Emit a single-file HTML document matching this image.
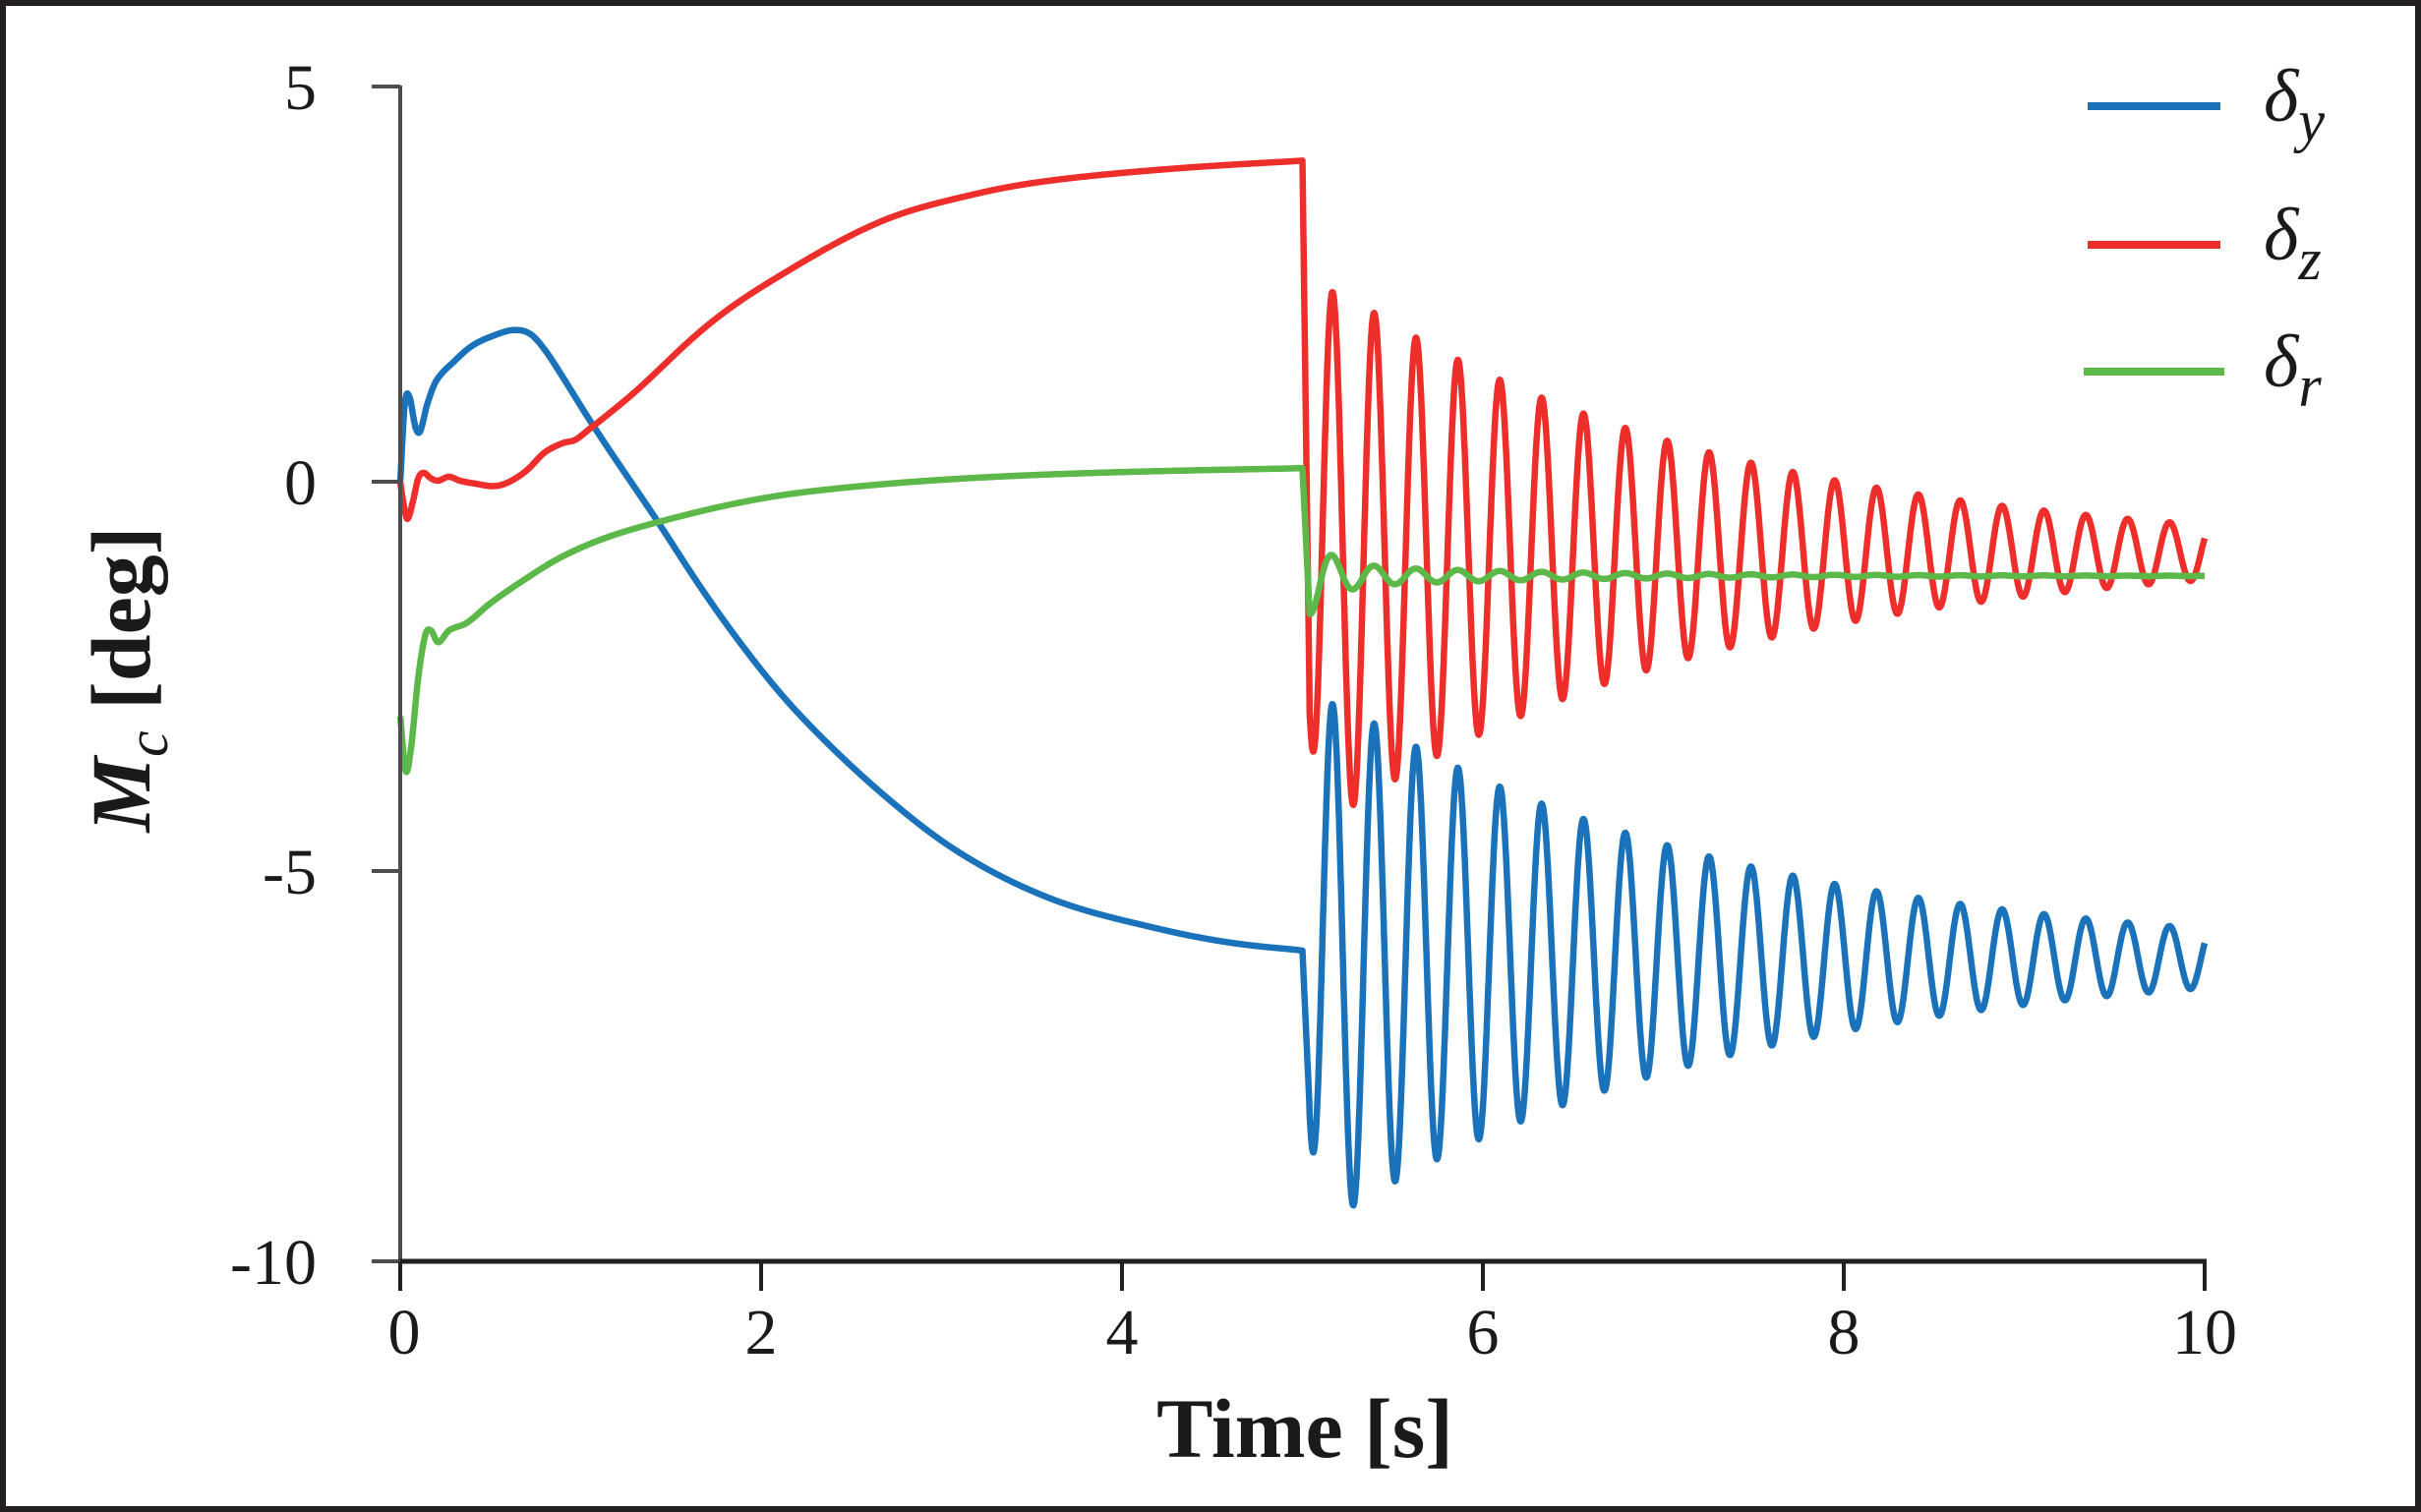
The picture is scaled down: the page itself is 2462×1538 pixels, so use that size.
<!DOCTYPE html>
<html><head><meta charset="utf-8"><style>
html,body{margin:0;padding:0;background:#fff}
svg{display:block}
text{font-family:"Liberation Serif",serif;fill:#1a1a1a}
</style></head><body>
<svg id="s" width="2462" height="1538" viewBox="0 0 2462 1538" xmlns="http://www.w3.org/2000/svg">
<rect x="3" y="3" width="2456" height="1532" fill="#fff" stroke="#231f20" stroke-width="6"/>
<g id="plot"></g>
<line x1="407" y1="87" x2="407" y2="1284" stroke="#4d4d4d" stroke-width="4"/>
<line x1="405" y1="1283" x2="2244" y2="1283" stroke="#231f20" stroke-width="5"/>
<g stroke="#4d4d4d" stroke-width="4">
<line x1="378" y1="88" x2="407" y2="88"/>
<line x1="378" y1="490" x2="407" y2="490"/>
<line x1="378" y1="886" x2="407" y2="886"/>
<line x1="378" y1="1283" x2="407" y2="1283"/>
</g>
<g stroke="#231f20" stroke-width="4">
<line x1="407" y1="1283" x2="407" y2="1313"/>
<line x1="774" y1="1283" x2="774" y2="1313"/>
<line x1="1141" y1="1283" x2="1141" y2="1313"/>
<line x1="1508" y1="1283" x2="1508" y2="1313"/>
<line x1="1875" y1="1283" x2="1875" y2="1313"/>
<line x1="2242" y1="1283" x2="2242" y2="1313"/>
</g>
<g font-size="66" text-anchor="end">
<text x="322" y="111">5</text>
<text x="322" y="513">0</text>
<text x="322" y="909">-5</text>
<text x="322" y="1306">-10</text>
</g>
<g font-size="66" text-anchor="middle">
<text x="411" y="1377">0</text>
<text x="774" y="1377">2</text>
<text x="1141" y="1377">4</text>
<text x="1508" y="1377">6</text>
<text x="1875" y="1377">8</text>
<text x="2242" y="1377">10</text>
</g>
<text x="1327" y="1482" font-size="86" font-weight="bold" text-anchor="middle">Time [s]</text>
<text transform="translate(152,691) rotate(-90)" font-size="86" font-weight="bold" text-anchor="middle"><tspan font-style="italic">M</tspan><tspan font-style="italic" font-weight="normal" font-size="60" dy="18">c</tspan><tspan dy="-18"> [deg]</tspan></text>
<line x1="2123" y1="108" x2="2258" y2="108" stroke="#1a72bb" stroke-width="8"/>
<line x1="2123" y1="249" x2="2258" y2="249" stroke="#ee2e2b" stroke-width="8"/>
<line x1="2119" y1="378" x2="2262" y2="378" stroke="#5cb848" stroke-width="8"/>
<g font-size="76" font-style="italic">
<text x="2302" y="123">δ<tspan font-size="60" dy="20">y</tspan></text>
<text x="2302" y="264">δ<tspan font-size="60" dy="20">z</tspan></text>
<text x="2302" y="393">δ<tspan font-size="60" dy="20">r</tspan></text>
</g>
</svg>
<script>
(function(){
var X=function(t){return 407+183.5*t;}, Y=function(v){return 490.5-79.4*v;};
function spline(pts,t){
  var i=0; while(i<pts.length-2 && t>pts[i+1][0]) i++;
  var p0=pts[Math.max(i-1,0)],p1=pts[i],p2=pts[i+1],p3=pts[Math.min(i+2,pts.length-1)];
  var u=(t-p1[0])/(p2[0]-p1[0]);
  var m1=(p2[1]-p0[1])/(p2[0]-p0[0]||1)*(p2[0]-p1[0]);
  var m2=(p3[1]-p1[1])/(p3[0]-p1[0]||1)*(p2[0]-p1[0]);
  var h00=2*u*u*u-3*u*u+1,h10=u*u*u-2*u*u+u,h01=-2*u*u*u+3*u*u,h11=u*u*u-u*u;
  return h00*p1[1]+h10*m1+h01*p2[1]+h11*m2;
}
var blue=[[0,0],[0.025,1.0],[0.05,1.1],[0.085,0.7],[0.11,0.65],[0.15,1.0],[0.2,1.3],[0.3,1.55],[0.4,1.75],[0.52,1.88],[0.63,1.95],[0.72,1.9],[0.8,1.7],[0.9,1.35],[1.07,0.72],[1.25,0.1],[1.43,-0.51],[1.65,-1.3],[1.92,-2.17],[2.2,-2.95],[2.65,-3.95],[3.1,-4.75],[3.62,-5.35],[4.2,-5.72],[4.6,-5.9],[5.0,-6.0]];
var red=[[0,0],[0.02,-0.3],[0.04,-0.47],[0.07,-0.25],[0.1,0.05],[0.13,0.12],[0.17,0.05],[0.21,0.02],[0.27,0.07],[0.33,0.02],[0.42,-0.02],[0.52,-0.05],[0.6,0.0],[0.7,0.15],[0.8,0.38],[0.9,0.5],[0.98,0.55],[1.07,0.72],[1.3,1.15],[1.67,1.95],[2.0,2.5],[2.65,3.33],[3.2,3.7],[3.62,3.87],[4.3,4.02],[5.0,4.12]];
var green=[[0,-3.0],[0.03,-3.7],[0.06,-3.4],[0.1,-2.5],[0.14,-1.95],[0.17,-1.9],[0.21,-2.05],[0.27,-1.9],[0.37,-1.8],[0.5,-1.55],[0.7,-1.23],[0.9,-0.95],[1.15,-0.7],[1.43,-0.51],[1.8,-0.3],[2.16,-0.15],[2.7,-0.02],[3.3,0.07],[4.0,0.13],[5.0,0.18]];
var W=2*Math.PI/0.232;
function post(c,A,k,t,start){
  var dt=t-5; if(dt<0.04) return start+(c-A*0.55*Math.exp(-k*0.04)-start)*(dt/0.04);
  var env=A*Math.exp(-k*dt)*(1-Math.exp(-dt/0.045));
  return c-env*Math.cos(W*(t-5.05));
}
function postG(t){
  var dt=t-5,c=-1.2,s=0.18;
  var f=function(d){return (0.5*Math.exp(-8*d)+0.15*Math.exp(-0.8*d));};
  if(dt<0.04) return s+(c-f(0.04)*Math.cos(W*(-0.01))-s)*(dt/0.04);
  return c-f(dt)*Math.cos(W*(t-5.05));
}
var series=[
 [red,'#ee2e2b',function(t){return post(-0.9,3.7,0.47,t,4.12);}],
 [green,'#5cb848',postG],
 [blue,'#1a72bb',function(t){return post(-6.1,3.6,0.45,t,-6.0);}]
];
var g=document.getElementById('plot'),ns='http://www.w3.org/2000/svg';
var dtS=0.0025;
[2,0,1].forEach(function(idx){
  var s=series[idx],T=[],V=[];
  for(var t=0;t<=10.0001;t+=dtS){T.push(t);V.push(t<=5?spline(s[0],t):s[2](t));}
  // smooth region 0.95..5
  var V2=V.slice(),sig=0.07,r=Math.round(2.5*sig/dtS);
  for(var i=0;i<T.length;i++){
    var t=T[i]; if(t<0.95||t>4.98) continue;
    var sw=0,sv=0;
    for(var j=-r;j<=r;j++){var k=i+j; if(k<0||T[k]>5||T[k]<0.8) continue;
      var w=Math.exp(-0.5*Math.pow(j*dtS/sig,2)); sw+=w; sv+=w*V[k];}
    var blend=Math.min(1,(t-0.95)/0.15)*Math.min(1,(4.98-t)/0.2);
    V2[i]=V[i]*(1-blend)+(sv/sw)*blend;
  }
  var d='';
  for(var i=0;i<T.length;i++) d+=(d?'L':'M')+X(T[i]).toFixed(1)+','+Y(V2[i]).toFixed(1);
  var p=document.createElementNS(ns,'path');
  p.setAttribute('d',d);p.setAttribute('fill','none');p.setAttribute('stroke',s[1]);
  p.setAttribute('stroke-width','6.5');p.setAttribute('stroke-linejoin','round');
  g.appendChild(p);
});
})();
</script>
</body></html>
